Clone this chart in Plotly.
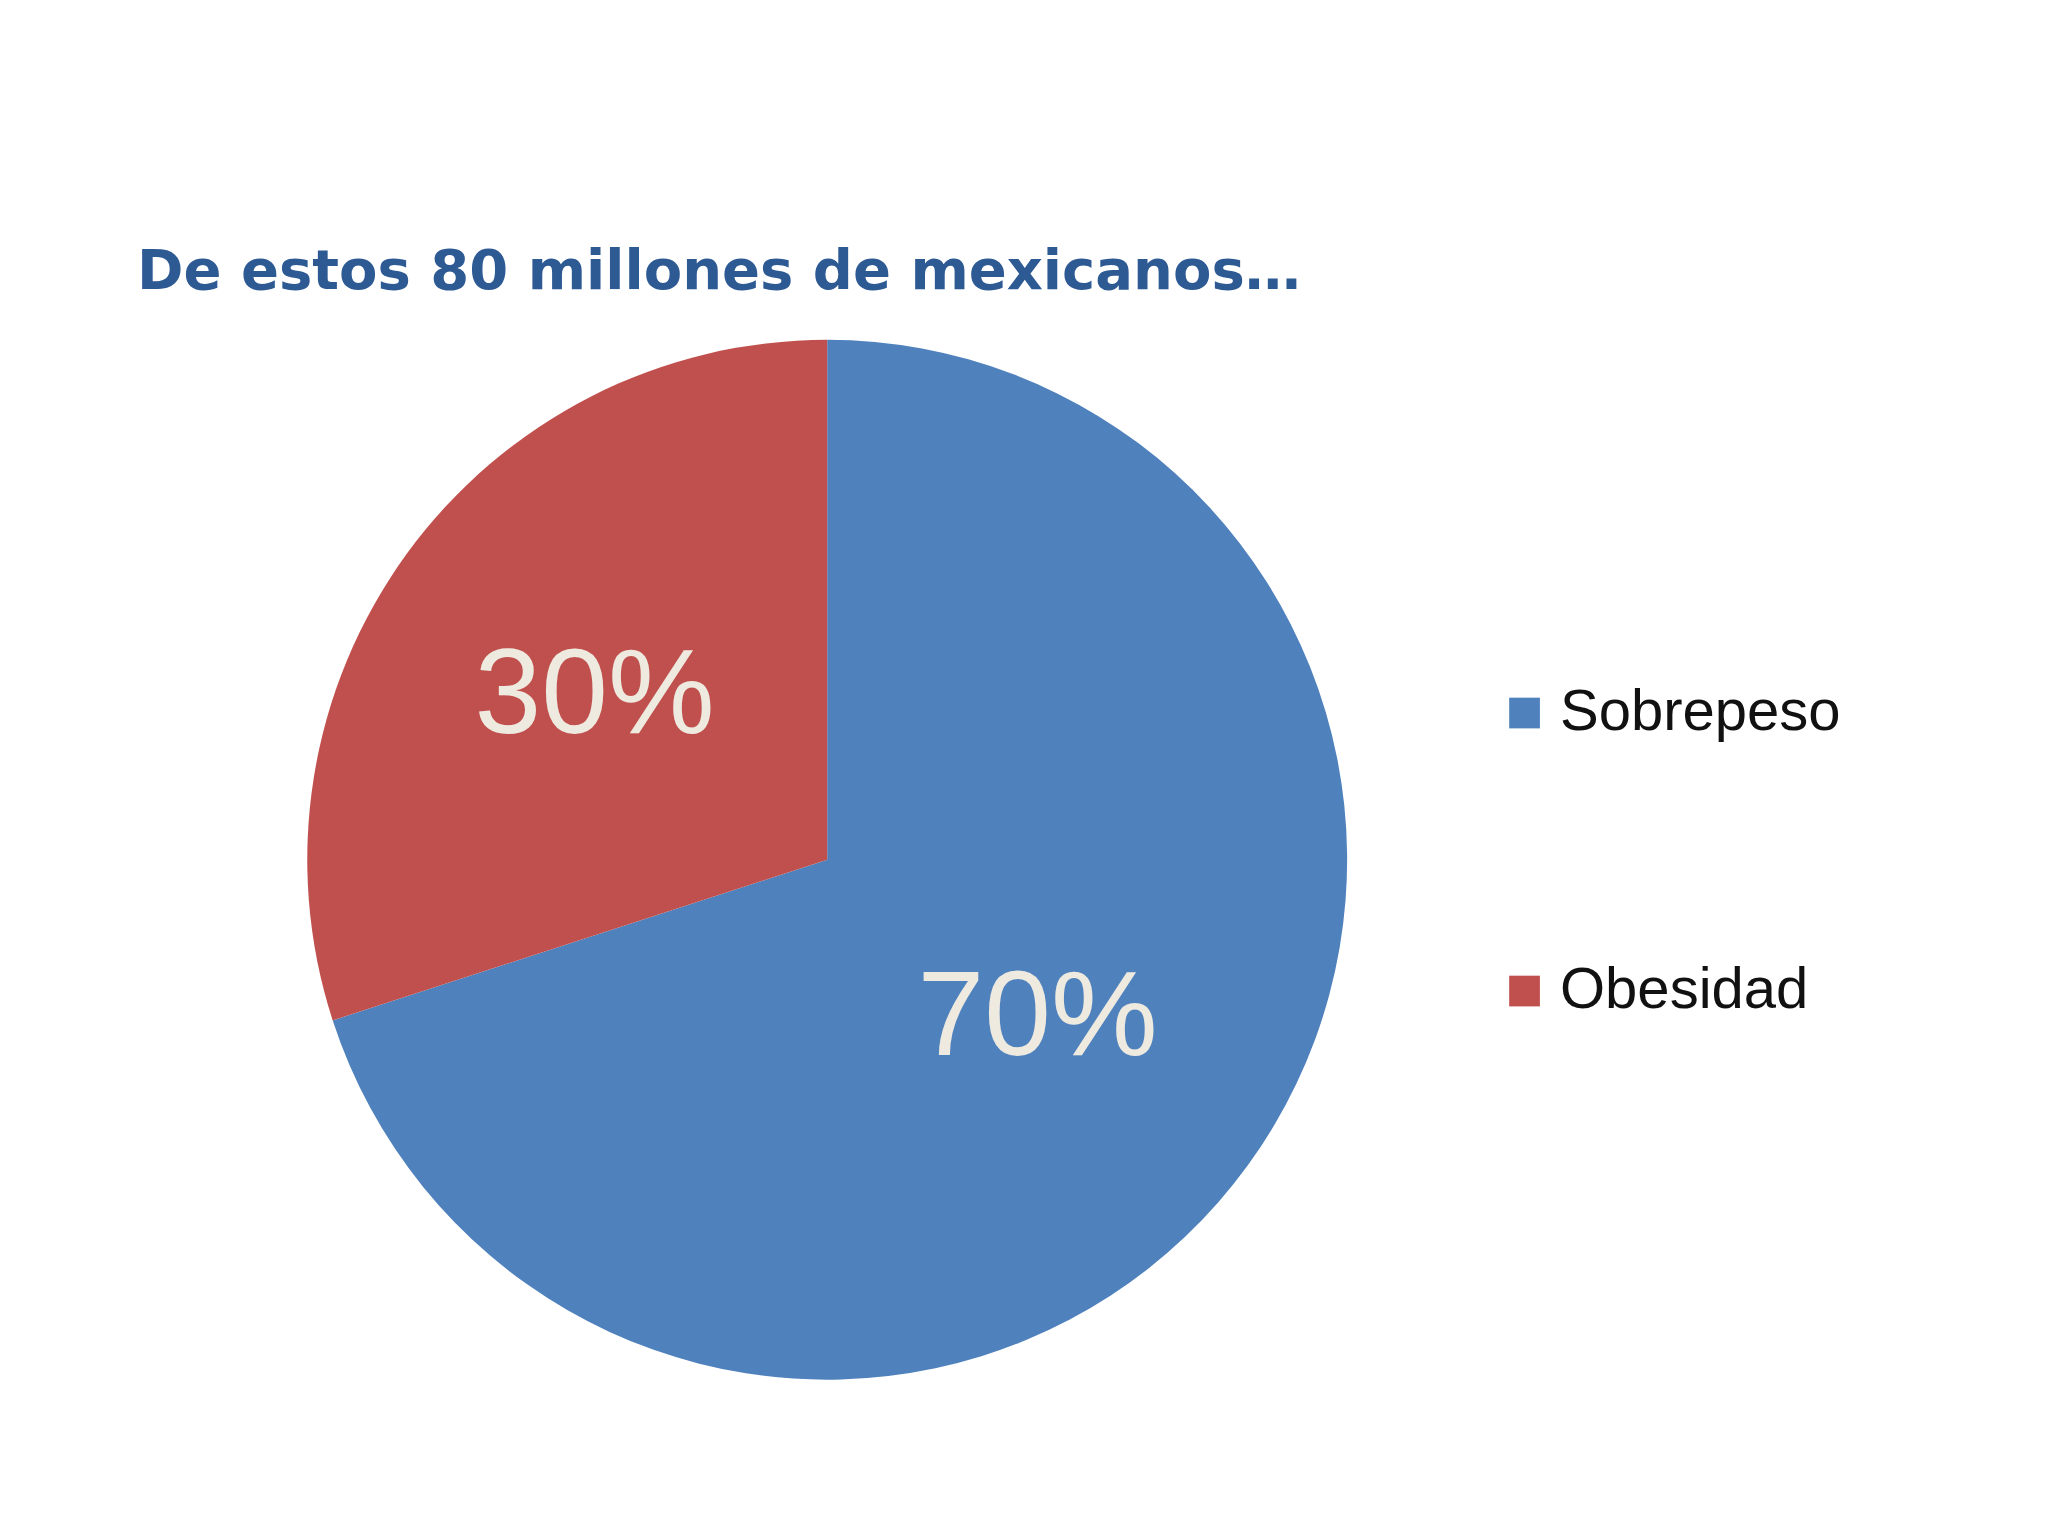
import plotly.graph_objects as go

labels = ["Sobrepeso", "Obesidad"]
values = [70, 30]
colors = ["#4F81BD", "#C0504D"]
title = "De estos 80 millones de mexicanos…"

fig = go.Figure(go.Pie(
    labels=labels, values=values, sort=False, direction="clockwise", rotation=0,
    marker=dict(colors=colors),
    textinfo="percent", textposition="inside", insidetextorientation="horizontal",
    textfont=dict(family="Liberation Sans", size=120, color="#EEEAE0"),
    domain=dict(x=[0.146, 0.654], y=[0.107, 0.784]),
    showlegend=False,
))

legend_y = [0.543, 0.362]
for lab, col, y in zip(labels, colors, legend_y):
    fig.add_shape(type="rect", xref="paper", yref="paper",
                  x0=0.733, x1=0.748, y0=y - 0.012, y1=y + 0.008,
                  fillcolor=col, line=dict(width=0))
    fig.add_annotation(x=0.757, y=y, xref="paper", yref="paper", text=lab,
                       showarrow=False, xanchor="left", yanchor="middle",
                       font=dict(family="Liberation Sans", size=58, color="#111111"))

fig.add_annotation(x=0.062, y=0.83, xref="paper", yref="paper", text="<b>" + title + "</b>",
                   showarrow=False, xanchor="left", yanchor="middle",
                   font=dict(family="DejaVu Sans", size=56, color="#2E5A94"))

fig.update_layout(width=2048, height=1536, margin=dict(l=0, r=0, t=0, b=0),
                  paper_bgcolor="white", plot_bgcolor="white")
fig.write_html("out.html")
